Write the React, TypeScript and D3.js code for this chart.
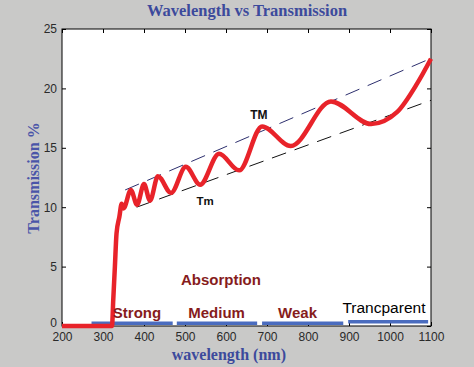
import React, { useEffect, useRef } from 'react';
import * as d3 from 'd3';

// spectrum
const wavelength = [200, 322, 325, 329, 333, 340, 345.5, 350, 368, 383, 400, 414.6, 434, 466, 502, 537, 583, 632, 688, 758, 856, 954, 1017, 1066, 1100];
const transmission = [0, 0, 2.2, 5.0, 7.8, 9.2, 10.3, 9.9, 11.45, 10.2, 11.95, 10.55, 12.6, 11.2, 13.4, 11.9, 14.5, 13.1, 16.8, 15.15, 18.9, 17.0, 18.0, 20.4, 22.5];

// envelope lines TM / Tm
const upperWl = [354, 1100];
const upperT = [11.45, 22.53];
const lowerWl = [382, 1100];
const lowerT = [10.0, 19.0];

// absorption regions
const bandNames = ['Strong', 'Medium', 'Weak', 'Trancparent'];
const bandStart = [272, 480, 688, 898];
const bandEnd = [470, 676, 886, 1093];

const xTicks = [200, 300, 400, 500, 600, 700, 800, 900, 1000, 1100];
const yTicks = [0, 5, 10, 15, 20, 25];

const W = 474;
const H = 367;

const App = () => {
  const svgRef = useRef(null);

  useEffect(() => {
    document.body.style.margin = '0';
    const svg = d3.select(svgRef.current);
    svg.selectAll('*').remove();

    const margin = { top: 29, right: 43, bottom: 41, left: 62 };
    const width = W - margin.left - margin.right;
    const height = H - margin.top - margin.bottom;

    const x = d3.scaleLinear().domain([200, 1100]).range([0, width]);
    const y = d3.scaleLinear().domain([0, 25]).range([height, 0]);

    svg.append('rect').attr('width', W).attr('height', H).attr('fill', '#c9c9c8');

    const serif = '"Liberation Serif", "Times New Roman", serif';
    const sans = '"Liberation Sans", Arial, sans-serif';

    svg.append('text')
      .attr('x', 247).attr('y', 16)
      .attr('text-anchor', 'middle')
      .attr('font-family', serif).attr('font-weight', 'bold').attr('font-size', 16.5)
      .attr('fill', '#3c4a9c')
      .text('Wavelength vs Transmission');

    const chart = svg.append('g')
      .attr('transform', `translate(${margin.left},${margin.top})`);

    chart.append('rect').attr('width', width).attr('height', height).attr('fill', '#fff');

    // axes, ticks inward
    const tick = 4;
    const styleAxis = g => {
      g.select('.domain').remove();
      g.selectAll('line').attr('stroke', '#000');
      g.selectAll('text').attr('font-family', sans).attr('font-size', 12).attr('fill', '#2a2a2a');
    };
    chart.append('g')
      .attr('transform', `translate(0,${height})`)
      .call(d3.axisBottom(x).tickValues(xTicks).tickFormat(d3.format('d')).tickSize(-tick).tickPadding(6))
      .call(styleAxis);
    chart.append('g')
      .call(d3.axisLeft(y).tickValues(yTicks).tickSize(-tick).tickPadding(5))
      .call(styleAxis)
      .call(g => g.selectAll('text').filter(d => d === 0).attr('dy', '0.05em'));
    chart.append('g')
      .call(d3.axisTop(x).tickValues(xTicks).tickSize(-tick).tickFormat(() => ''))
      .call(styleAxis);
    chart.append('g')
      .attr('transform', `translate(${width},0)`)
      .call(d3.axisRight(y).tickValues(yTicks).tickSize(-tick).tickFormat(() => ''))
      .call(styleAxis);

    chart.append('rect')
      .attr('width', width).attr('height', height)
      .attr('fill', 'none').attr('stroke', '#000').attr('stroke-width', 1);

    // absorption bars
    chart.selectAll('.band')
      .data(bandNames)
      .enter().append('rect')
      .attr('class', 'band')
      .attr('x', (d, i) => x(bandStart[i]))
      .attr('width', (d, i) => x(bandEnd[i]) - x(bandStart[i]))
      .attr('y', (d, i) => y(0) - (i === 3 ? 6 : 4.5))
      .attr('height', 3.5)
      .attr('fill', '#4a6cbf');

    // envelopes
    const env = d3.line().x(d => x(d[0])).y(d => y(d[1]));
    chart.append('path')
      .attr('d', env(upperWl.map((w, i) => [w, upperT[i]])))
      .attr('fill', 'none').attr('stroke', '#2d2f6e').attr('stroke-width', 1)
      .attr('stroke-dasharray', '15,9');
    chart.append('path')
      .attr('d', env(lowerWl.map((w, i) => [w, lowerT[i]])))
      .attr('fill', 'none').attr('stroke', '#111').attr('stroke-width', 1)
      .attr('stroke-dasharray', '15,9');

    // spectrum
    const line = d3.line()
      .x(d => x(d[0]))
      .y(d => y(d[1]))
      .curve(d3.curveMonotoneX);
    chart.append('path')
      .attr('d', line(wavelength.map((w, i) => [w, transmission[i]])))
      .attr('fill', 'none')
      .attr('stroke', '#e8232a')
      .attr('stroke-width', 4.5)
      .attr('stroke-linejoin', 'round');

    // annotations
    const red = '#861c1c';
    chart.append('text')
      .attr('x', x(680)).attr('y', y(17.4))
      .attr('text-anchor', 'middle')
      .attr('font-family', sans).attr('font-weight', 'bold').attr('font-size', 12)
      .attr('fill', '#111').text('TM');
    chart.append('text')
      .attr('x', x(549)).attr('y', y(10.2))
      .attr('text-anchor', 'middle')
      .attr('font-family', sans).attr('font-weight', 'bold').attr('font-size', 11.5)
      .attr('fill', '#111').text('Tm');
    chart.append('text')
      .attr('x', x(490)).attr('y', y(0) - 41)
      .attr('font-family', sans).attr('font-weight', 'bold').attr('font-size', 15)
      .attr('fill', red).text('Absorption');

    const labelAt = [324, 508, 727, 884];
    chart.selectAll('.bandLabel')
      .data(bandNames)
      .enter().append('text')
      .attr('class', 'bandLabel')
      .attr('x', (d, i) => x(labelAt[i]))
      .attr('y', (d, i) => y(0) - (i === 3 ? 13 : 8.5))
      .attr('font-family', sans)
      .attr('font-weight', (d, i) => (i === 3 ? 'normal' : 'bold'))
      .attr('font-size', (d, i) => (i === 3 ? 15.5 : 15))
      .attr('fill', (d, i) => (i === 3 ? '#000' : red))
      .text(d => d);

    // axis titles
    svg.append('text')
      .attr('x', margin.left + x(607)).attr('y', 360)
      .attr('text-anchor', 'middle')
      .attr('font-family', serif).attr('font-weight', 'bold').attr('font-size', 16)
      .attr('fill', '#3c4a9c')
      .text('wavelength (nm)');
    svg.append('text')
      .attr('transform', 'translate(39,178) rotate(-90)')
      .attr('text-anchor', 'middle')
      .attr('font-family', serif).attr('font-weight', 'bold').attr('font-size', 16)
      .attr('fill', '#4a55a8')
      .text('Transmission %');
  }, []);

  return <svg ref={svgRef} width={W} height={H} style={{ display: 'block' }}></svg>;
};

export default App;
